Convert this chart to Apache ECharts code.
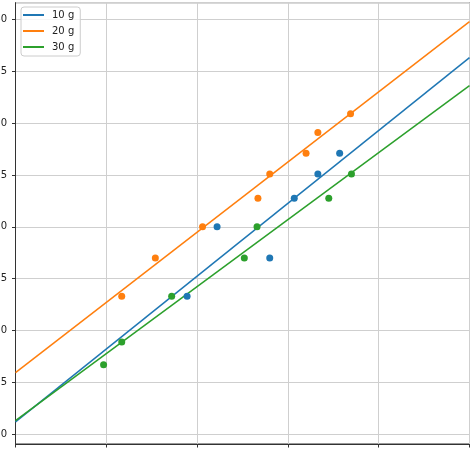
<!DOCTYPE html>
<html>
<head>
<meta charset="utf-8">
<script src="https://cdn.jsdelivr.net/npm/echarts@6/dist/echarts.min.js"></script>
<style>
    html, body { margin: 0; padding: 0; background: #fff; }
    #chart { width: 474px; height: 449px; }
</style>
</head>
<body>
<div id="chart"></div>
<script>
// legend names
var seriesNames = ['10 g', '20 g', '30 g'];
var colors = ['#1f77b4', '#ff7f0e', '#2ca02c'];

// measured points [x, y]
var points10 = [[18.9, 13.3], [22.2, 20.0], [28.0, 17.0], [30.7, 22.75], [33.3, 25.1], [35.7, 27.1]];
var points20 = [[11.7, 13.3], [15.4, 17.0], [20.6, 20.0], [26.7, 22.75], [28.0, 25.1], [32.0, 27.1], [33.3, 29.1], [36.9, 30.9]];
var points30 = [[9.7, 6.7], [11.7, 8.9], [17.2, 13.3], [25.2, 17.0], [26.6, 20.0], [34.5, 22.75], [37.0, 25.1]];

// fitted lines, ends at the x limits
var fit10 = [[0, 1.2], [50, 36.3]];
var fit20 = [[0, 5.94], [50, 39.77]];
var fit30 = [[0, 1.31], [50, 33.6]];

// axis limits
var xLimits = [0, 50];
var yLimits = [-0.935, 41.6];

var chart = echarts.init(document.getElementById('chart'));

function scatterSeries(name, data, color) {
    return {
        name: name,
        type: 'scatter',
        data: data,
        symbol: 'circle',
        symbolSize: 7,
        itemStyle: { color: color, opacity: 1 },
        z: 3
    };
}

function lineSeries(name, data, color) {
    return {
        name: name,
        type: 'line',
        data: data,
        showSymbol: false,
        symbol: 'none',
        lineStyle: { color: color, width: 1.5 },
        itemStyle: { color: color },
        z: 2
    };
}

var option = {
    backgroundColor: '#fff',
    animation: false,
    grid: {
        left: 15.5,
        right: 4.5,
        top: 2.7,
        bottom: 5,
        show: true,
        borderColor: '#333',
        borderWidth: 1,
        backgroundColor: '#fff',
        outerBoundsMode: 'none'
    },
    legend: {
        orient: 'vertical',
        left: 21,
        top: 7,
        padding: [0, 6, 1, 2],
        itemWidth: 21,
        itemHeight: 2,
        itemGap: 0,
        icon: 'rect',
        backgroundColor: 'rgba(255,255,255,0.8)',
        borderColor: '#ccc',
        borderWidth: 1,
        borderRadius: 3,
        data: [
            { name: seriesNames[0], icon: 'rect' },
            { name: seriesNames[1], icon: 'rect' },
            { name: seriesNames[2], icon: 'rect' }
        ],
        textStyle: {
            fontFamily: 'DejaVu Sans',
            fontSize: 10,
            color: '#222',
            lineHeight: 16,
            padding: [0, 0, 0, 3]
        }
    },
    xAxis: {
        type: 'value',
        min: xLimits[0],
        max: xLimits[1],
        interval: 10,
        axisLine: { show: true, onZero: false, lineStyle: { color: '#333', width: 1 } },
        axisTick: { show: true, length: 3.5, lineStyle: { color: '#333' } },
        axisLabel: { show: true, margin: 6, fontFamily: 'DejaVu Sans', fontSize: 10, color: '#222' },
        splitLine: { show: true, lineStyle: { color: '#cfcfcf', width: 1 } }
    },
    yAxis: {
        type: 'value',
        min: yLimits[0],
        max: yLimits[1],
        splitNumber: 8,
        axisLine: { show: true, onZero: false, lineStyle: { color: '#333', width: 1 } },
        axisTick: { show: true, length: 3.5, lineStyle: { color: '#333' } },
        axisLabel: {
            show: true,
            margin: 8.5,
            fontFamily: 'DejaVu Sans',
            fontSize: 10,
            color: '#222',
            showMinLabel: false,
            showMaxLabel: false
        },
        splitLine: { show: true, lineStyle: { color: '#cfcfcf', width: 1 } }
    },
    series: [
        scatterSeries('pts10', points10, colors[0]),
        scatterSeries('pts20', points20, colors[1]),
        scatterSeries('pts30', points30, colors[2]),
        lineSeries(seriesNames[0], fit10, colors[0]),
        lineSeries(seriesNames[1], fit20, colors[1]),
        lineSeries(seriesNames[2], fit30, colors[2])
    ]
};

chart.setOption(option);
</script>
</body>
</html>
